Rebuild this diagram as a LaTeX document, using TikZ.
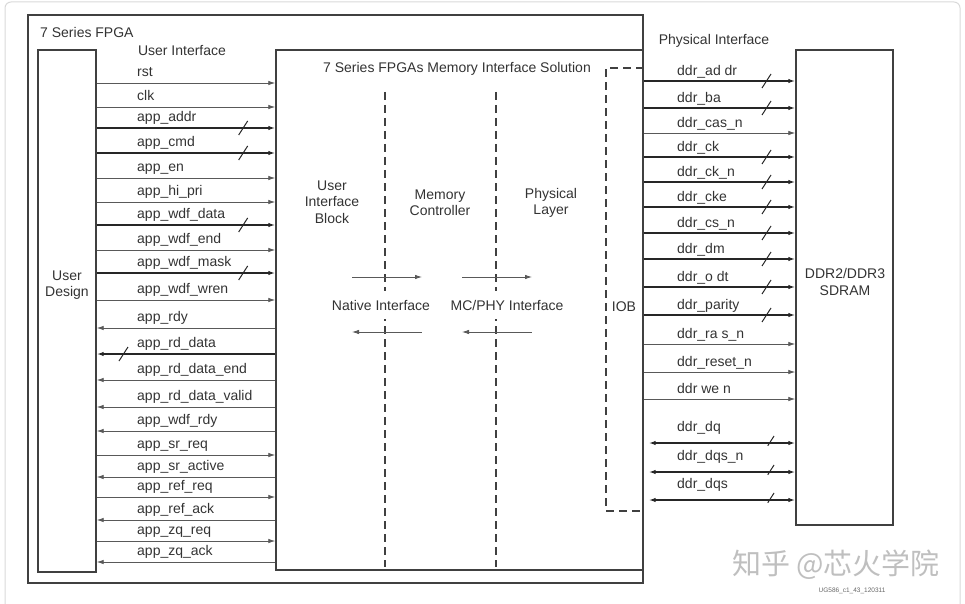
\documentclass[tikz,border=0pt]{standalone}
\usepackage{fontspec}
\setmainfont{Liberation Sans}
\newfontfamily\cjk{Noto Sans CJK SC}
\usepackage{tikz}
\usetikzlibrary{arrows.meta,decorations.markings,shapes}

\begin{document}
\begin{tikzpicture}[x=1pt,y=-1pt,>={Latex[length=7pt,width=4.5pt]}]
			\tikzset{every node/.style={font=\fontsize{14}{16.5}\selectfont,text=black!80,inner sep=0pt}}
			\tikzset{box/.style={draw=black!75,line width=1.4pt,minimum width=#1}}
			\tikzset{sig/.style={anchor=base west}}
			\tikzset{gap/.style={fill=white,inner ysep=9pt,inner xsep=1pt}}
			\tikzset{sigline/.style={line width=0.8pt,draw=black!65}}
			\tikzset{busline/.style={line width=1.6pt,draw=black!85}}
			\tikzset{slash/.style={postaction={decorate,decoration={markings,mark=at position #1 with {\draw[-,line width=1pt,black!85] (-4.5pt,-7pt) -- (4.5pt,7pt);}}}}}
			\tikzset{wr/.style={sigline,->},wl/.style={sigline,<-}}
			\tikzset{busr/.style={busline,slash=0.82,->},busl/.style={busline,slash=0.15,<-}}
			\tikzset{dw/.style={sigline,->},dbus/.style={busline,slash=0.81,->}}
			\tikzset{dbi/.style={busline,slash=0.83,<->,shorten <=5pt}}
			\tikzset{divider/.style={line width=1.3pt,draw=black!75,dash pattern=on 8pt off 5pt}}
			\useasboundingbox (0,0) rectangle (965,604);
			\draw[black!15,line width=1pt,rounded corners=6pt] (5,604) -- (5,2) -- (960,2) -- (960,604);
			\node[box=615pt,minimum height=568pt] (fpga) at (335.5,299) {};
			\node[box=58pt,minimum height=522pt] (ud) at (67,311) {};
			\node[box=367pt,minimum height=520pt] (mis) at (459.5,310) {};
			\node[box=97pt,minimum height=475pt] (sdram) at (844.5,287.5) {};
			\node[anchor=west] (fpgat) at (40,32) {7 Series FPGA};
			\node[align=center] (udt) at (67,285) {User\\Design};
			\node (uit) at (182,51) {User Interface};
			\node (mist) at (457,69) {7 Series FPGAs Memory Interface Solution};
			\node (pit) at (714,41) {Physical Interface};
			\node[align=center] (sdramt) at (845,282) {DDR2/DDR3\\SDRAM};
			\node[align=center] (uib) at (332,202) {User\\Interface\\Block};
			\node[align=center] (mc) at (440,203) {Memory\\Controller};
			\node[align=center] (pl) at (551,203) {Physical\\Layer};
			\coordinate (d1a) at (385,92); \coordinate (d1b) at (385,567);
			\coordinate (d2a) at (496,92); \coordinate (d2b) at (496,567);
			\draw[divider] (d1a) -- (d1b);
			\draw[divider] (d2a) -- (d2b);
			\node[gap] (ni) at (381,305) {Native Interface};
			\node[gap] (mp) at (507,305) {MC/PHY Interface};
			\coordinate (iob1) at (606,68); \coordinate (iob2) at (606,511);
			\draw[divider] (mis.east |- iob1) -- (iob1) -- (iob2) -- (mis.east |- iob2);
			\node[fill=white,inner sep=2pt] (iob) at (624,307) {IOB};
			\coordinate (nia) at (352,277); \coordinate (nib) at (422,277);
			\coordinate (mpa) at (462,277); \coordinate (mpb) at (532,277);
			\draw[wr] (nia) -- (nib);
			\draw[wr] (mpa) -- (mpb);
			\draw[wl] (nia |- 0,332) -- (nib |- 0,332);
			\draw[wl] (mpa |- 0,332) -- (mpb |- 0,332);
			\foreach \y/\lab/\kind in {83/rst/wr,107/clk/wr,128/app\_addr/busr,153/app\_cmd/busr,178/app\_en/wr,202/app\_hi\_pri/wr,225/app\_wdf\_data/busr,250/app\_wdf\_end/wr,273/app\_wdf\_mask/busr,300/app\_wdf\_wren/wr,328/app\_rdy/wl,354/app\_rd\_data/busl,380/app\_rd\_data\_end/wl,407/app\_rd\_data\_valid/wl,431/app\_wdf\_rdy/wl,455/app\_sr\_req/wr,477/app\_sr\_active/wl,497/app\_ref\_req/wr,520/app\_ref\_ack/wl,541/app\_zq\_req/wr,562/app\_zq\_ack/wl}
			{
				\draw[\kind] (ud.east |- 0,\y) -- (mis.west |- 0,\y);
				\node[sig] (u\y) at (137,\y-6.5) {\lab};
			}
			\foreach \y/\lab/\kind in {81/ddr\_ad dr/dbus,108/ddr\_ba/dbus,133/ddr\_cas\_n/dw,157/ddr\_ck/dbus,182/ddr\_ck\_n/dbus,207/ddr\_cke/dbus,233/ddr\_cs\_n/dbus,259/ddr\_dm/dbus,287/ddr\_o dt/dbus,315/ddr\_parity/dbus,344/ddr\_ra s\_n/dw,372/ddr\_reset\_n/dw,399/ddr we n/dw}
			{
				\draw[\kind] (mis.east |- 0,\y) -- (sdram.west |- 0,\y);
				\node[sig] (p\y) at (677,\y-5.5) {\lab};
			}
			\foreach \y/\lab in {443/ddr\_dq,472/ddr\_dqs\_n,500/ddr\_dqs}
			{
				\draw[dbi] (mis.east |- 0,\y) -- (sdram.west |- 0,\y);
				\node[sig] (p\y) at (677,\y-11.5) {\lab};
			}
			\node[text=black!25,font=\cjk\fontsize{29}{29}\selectfont] (wm) at (836,565) {知乎 @芯火学院};
			\node[text=black!60,font=\fontsize{6.5}{7}\selectfont] (ug) at (852,591) {UG586\_c1\_43\_120311};
		\end{tikzpicture}
\end{document}
